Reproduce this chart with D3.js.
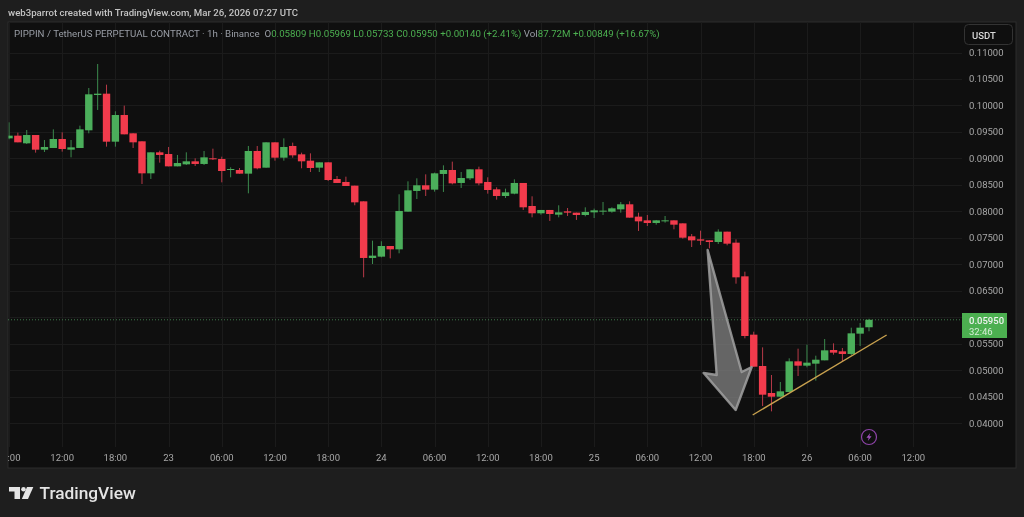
<!DOCTYPE html>
<html><head><meta charset="utf-8">
<script src="https://cdn.jsdelivr.net/npm/d3@7/dist/d3.min.js"></script>
<style>html,body{margin:0;padding:0;background:#1e1e1e;overflow:hidden}svg{display:block;filter:blur(.35px)}text{font-family:Roboto,sans-serif}</style>
</head><body><svg id="c" width="1024" height="517"></svg>
<script>
const opens=[.09378,.09429,.09284,.09441,.09164,.09196,.09366,.09164,.09196,.09530,
.10197,.10222,.09315,.09819,.09473,.09322,.08717,.09114,.09082,.08849,
.08887,.08944,.08894,.09001,.08988,.08780,.08780,.08711,.09139,.08824,
.09303,.09013,.09234,.09076,.08956,.08824,.08925,.08610,.08554,.08484,
.08188,.07118,.07143,.07344,.07281,.07993,.08384,.08491,.08409,.08705,
.08780,.08535,.08623,.08793,.08554,.08415,.08289,.08333,.08535,.08100,
.07962,.08025,.07936,.07999,.07974,.07930,.07980,.07993,.07993,.08037,
.08132,.07899,.07829,.07779,.07810,.07829,.07772,.07527,.07470,.07451,
.07420,.07615,.07407,.06771,.05669,.05077,.04567,.04497,.04586,.05165,
.05083,.05121,.05184,.05379,.05354,.05304,.05688,.05809];
const highs=[.09681,.09486,.09536,.09441,.09347,.09548,.09492,.09347,.09618,.10329,
.10783,.10392,.09889,.09996,.09473,.09322,.09114,.09145,.09215,.09064,
.09114,.09001,.09139,.09183,.09032,.08831,.08818,.09234,.09234,.09303,
.09303,.09378,.09297,.09108,.09095,.08925,.08925,.08667,.08654,.08484,
.08188,.07445,.07433,.07344,.08321,.08566,.08623,.08698,.08730,.08868,
.08938,.08743,.08793,.08843,.08642,.08453,.08428,.08604,.08535,.08283,
.08025,.08025,.08113,.08062,.07974,.08075,.08050,.08176,.08075,.08176,
.08188,.07974,.07930,.07836,.07911,.07829,.07772,.07571,.07634,.07451,
.07659,.07615,.07470,.06859,.05725,.05429,.04907,.04775,.05222,.05404,
.05480,.05272,.05587,.05505,.05417,.05801,.05889,.05969];
const lows=[.09360,.09303,.09271,.09108,.09120,.09196,.09127,.09019,.09196,.09473,
.09914,.09221,.09221,.09454,.09196,.08516,.08610,.08919,.08849,.08849,
.08875,.08856,.08875,.08969,.08547,.08642,.08711,.08339,.08793,.08824,
.08956,.08956,.09013,.08812,.08742,.08742,.08572,.08535,.08478,.08113,
.06752,.07004,.07130,.07111,.07206,.07993,.08232,.08289,.08371,.08365,
.08509,.08440,.08591,.08491,.08333,.08220,.08251,.08321,.08025,.07886,
.07936,.07817,.07886,.07911,.07836,.07905,.07873,.07930,.07974,.07974,
.07880,.07628,.07722,.07747,.07785,.07659,.07483,.07325,.07363,.07300,
.07382,.07357,.06632,.05600,.05064,.04321,.04220,.04497,.04586,.04888,
.05052,.04800,.05184,.05291,.05152,.05278,.05455,.05733];
const closes=[.09429,.09303,.09441,.09164,.09215,.09366,.09177,.09208,.09548,.10210,
.10222,.09315,.09819,.09454,.09303,.08717,.09114,.09064,.08849,.08912,
.08944,.08894,.09019,.08982,.08761,.08799,.08711,.09139,.08812,.09303,
.09013,.09215,.09057,.08944,.08818,.08925,.08591,.08535,.08478,.08169,
.07118,.07162,.07344,.07281,.08006,.08396,.08491,.08409,.08717,.08780,
.08528,.08629,.08793,.08528,.08402,.08289,.08358,.08535,.08075,.07962,
.08025,.07949,.07980,.07974,.07930,.07987,.08018,.08012,.08056,.08132,
.07880,.07810,.07779,.07829,.07829,.07747,.07501,.07451,.07445,.07420,
.07615,.07388,.06752,.05644,.05064,.04535,.04497,.04598,.05165,.05083,
.05140,.05196,.05373,.05329,.05304,.05694,.05801,.05950];
const priceTicks=[.11,.105,.1,.095,.09,.085,.08,.075,.07,.065,.06,.055,.05,.045,.04];
const timeTicks=[0,6,12,18,24,30,36,42,48,54,60,66,72,78,84,90,96,102];
const timeLabels=[":00","12:00","18:00","23","06:00","12:00","18:00","24","06:00","12:00","18:00","25","06:00","12:00","18:00","26","06:00","12:00"];
const lastPrice=.0595;
const arrowIdx=[78.8,82.64,83.77,81.96,78.35,79.82];
const arrowPrice=[.07269,.04964,.05058,.04246,.04945,.04907];
const trendIdx=[83.88,98.99];
const trendPrice=[.04151,.05663];
const headerTitle="PIPPIN / TetherUS PERPETUAL CONTRACT · 1h · Binance";
const ohlcParts=[["O","#9a9ea6"],["0.05809","#4caf50"],[" H","#4caf50"],["0.05969","#4caf50"],[" L","#4caf50"],["0.05733","#4caf50"],[" C","#4caf50"],["0.05950","#4caf50"],[" +0.00140 (+2.41%)","#4caf50"],[" Vol","#9a9ea6"],["87.72M","#4caf50"],[" +0.00849 (+16.67%)","#4caf50"]];

const svg=d3.select("#c");
const L=8,R=1016,T=22,B=468,AX=962,TB=447;
const x=d3.scaleLinear().domain([0,97]).range([9,869]);
const y=d3.scaleLinear().domain([.11,.04]).range([52.5,423]);
const GREEN="#4bae5b",RED="#f23b4c",GW="#3c8a4e",RW="#b83a48";

svg.append("rect").attr("width",1024).attr("height",517).attr("fill","#1e1e1e");
svg.append("rect").attr("x",L).attr("y",T).attr("width",R-L).attr("height",B-T).attr("fill","#0f0f0f").attr("stroke","#2c2c2c");
svg.append("defs").append("clipPath").attr("id","pl").append("rect").attr("x",L+.5).attr("y",T).attr("width",AX-L).attr("height",TB-T+20);

const grid=svg.append("g").attr("stroke","#1b1b1b").attr("stroke-width",1);
grid.selectAll("line.h").data(priceTicks).join("line").attr("class","h")
 .attr("x1",L).attr("x2",AX).attr("y1",d=>Math.round(y(d))+.5).attr("y2",d=>Math.round(y(d))+.5);
grid.selectAll("line.v").data(timeTicks).join("line").attr("class","v")
 .attr("y1",T).attr("y2",TB).attr("x1",d=>Math.round(x(d))+.5).attr("x2",d=>Math.round(x(d))+.5);

svg.append("line").attr("x1",L).attr("x2",AX).attr("y1",y(lastPrice)).attr("y2",y(lastPrice))
 .attr("stroke","#3f7a4c").attr("stroke-dasharray","1 2");

const plot=svg.append("g").attr("clip-path","url(#pl)");
const idx=d3.range(opens.length);
plot.selectAll("line.w").data(idx).join("line").attr("class","w")
 .attr("x1",i=>x(i)).attr("x2",i=>x(i))
 .attr("y1",i=>y(highs[i])).attr("y2",i=>y(lows[i]))
 .attr("stroke",i=>closes[i]>=opens[i]?GW:RW);
plot.selectAll("rect.b").data(idx).join("rect").attr("class","b")
 .attr("x",i=>x(i)-3.7).attr("width",7.4)
 .attr("y",i=>y(Math.max(opens[i],closes[i])))
 .attr("height",i=>Math.max(1,Math.abs(y(opens[i])-y(closes[i]))))
 .attr("fill",i=>closes[i]>=opens[i]?GREEN:RED);

svg.append("polygon").attr("points",arrowIdx.map((a,i)=>x(a)+","+y(arrowPrice[i])).join(" "))
 .attr("fill","rgba(125,125,125,.78)").attr("stroke","rgba(160,160,160,.85)").attr("stroke-width",2.4).attr("stroke-linejoin","round");
svg.append("line").attr("x1",x(trendIdx[0])).attr("y1",y(trendPrice[0])).attr("x2",x(trendIdx[1])).attr("y2",y(trendPrice[1]))
 .attr("stroke","#c9a24f").attr("stroke-width",1.4);

svg.append("g").selectAll("text").data(priceTicks.filter(d=>d!==.06)).join("text")
 .attr("x",969).attr("y",d=>y(d)+3.5).attr("font-size",9.5).attr("fill","#a8a8a8")
 .text(d=>d3.format(".5f")(d));
svg.append("g").selectAll("text").data(timeTicks).join("text")
 .attr("x",(d,i)=>i===0?14:x(d)).attr("y",461).attr("text-anchor","middle").attr("font-size",9.5).attr("fill","#a8a8a8")
 .text((d,i)=>timeLabels[i]);

svg.append("rect").attr("x",962).attr("y",313).attr("width",45).attr("height",25).attr("fill","#4caf50");
svg.append("text").attr("x",969).attr("y",324).attr("font-size",9.5).attr("font-weight",500).attr("fill","#f2f2f2").text(d3.format(".5f")(lastPrice));
svg.append("text").attr("x",969).attr("y",335).attr("font-size",9.5).attr("fill","#d5ecd6").text("32:46");

svg.append("rect").attr("x",964.5).attr("y",24.5).attr("width",48).attr("height",20).attr("rx",4).attr("fill","#0f0f0f").attr("stroke","#333");
svg.append("text").attr("x",972).attr("y",39).attr("font-size",9.5).attr("font-weight",500).attr("fill","#d8d8d8").text("USDT");

svg.append("text").attr("x",8).attr("y",15.5).attr("font-size",9.65).attr("font-weight",500).attr("fill","#c4c4c4").text("web3parrot created with TradingView.com, Mar 26, 2026 07:27 UTC");
const h=svg.append("text").attr("x",14).attr("y",36.5).attr("font-size",9.7).attr("fill","#9a9ea6").attr("xml:space","preserve");
h.append("tspan").text(headerTitle+"  ");
ohlcParts.forEach(p=>h.append("tspan").attr("fill",p[1]).attr("xml:space","preserve").text(p[0]));

const m=svg.append("g").attr("transform","translate(869,437)");
m.append("circle").attr("r",7.5).attr("fill","none").attr("stroke","#8e44a8").attr("stroke-width",1.2);
m.append("path").attr("d","M1.2,-4 L-2.6,0.8 L-0.3,0.8 L-1.2,4 L2.6,-0.8 L0.3,-0.8 Z").attr("fill","#a050bd");

const lg=svg.append("g").attr("fill","#e4e4e4");
lg.append("path").attr("d","M9,487 H20 V499 H14.5 V491.5 H9 Z");
lg.append("circle").attr("cx",23.5).attr("cy",489.3).attr("r",2.3);
lg.append("path").attr("d","M27,487 H33.3 L28,499 H21.8 Z");
svg.append("text").attr("x",39.5).attr("y",498.5).attr("font-size",17.3).attr("font-weight",500).attr("fill","#e4e4e4").text("TradingView");
</script></body></html>
